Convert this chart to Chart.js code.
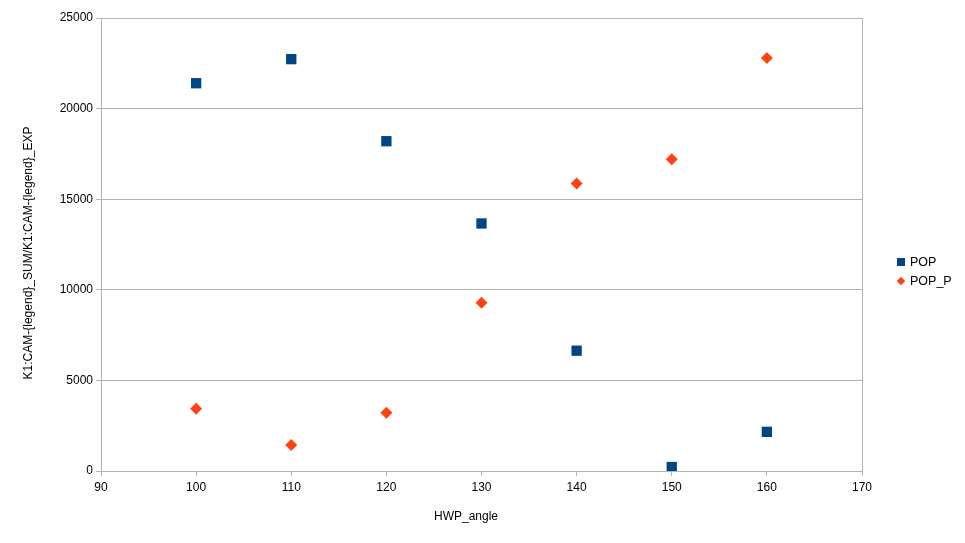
<!DOCTYPE html>
<html>
<head>
<meta charset="utf-8">
<script src="https://cdn.jsdelivr.net/npm/chart.js@4"></script>
<style>
  html, body { margin: 0; padding: 0; background: #fff; }
  #wrap { position: relative; width: 965px; height: 543px; font-family: "Liberation Sans", Arial, sans-serif; }
  #legend { position: absolute; left: 896px; top: 253px; font-size: 12.5px; color: #000; }
  .item { height: 19px; line-height: 19px; white-space: nowrap; position: relative; padding-left: 14px; }
  .sym { position: absolute; }
  #xtitle { position: absolute; left: 366px; width: 200px; top: 508px; text-align: center; font-size: 12px; line-height: 16px; color: #000; }
  #ytitle { position: absolute; left: 28px; top: 253px; width: 400px; margin-left: -200px; margin-top: -8px; text-align: center; font-size: 12px; line-height: 16px; color: #000; transform: rotate(-90deg); white-space: nowrap; }
</style>
</head>
<body>
<div id="wrap">
  <canvas id="c" width="965" height="543"></canvas>
  <div id="legend"></div>
  <div id="xtitle"></div>
  <div id="ytitle"></div>
</div>
<script>
const xValues = [100, 110, 120, 130, 140, 150, 160];
const popValues = [21400, 22730, 18200, 13660, 6640, 220, 2160];
const popPValues = [3430, 1440, 3210, 9290, 15870, 17200, 22790];
const seriesNames = ['POP', 'POP_P'];
const seriesColors = ['#004586', '#ff420e'];
const xAxisTitle = 'HWP_angle';
const yAxisTitle = 'K1:CAM-{legend}_SUM/K1:CAM-{legend}_EXP';

const toPoints = (vals) => xValues.map((x, i) => ({ x: x, y: vals[i] }));
const font = { family: '"Liberation Sans", Arial, sans-serif', size: 12 };
const gridColor = '#b3b3b3';

Chart.defaults.font.family = font.family;
Chart.defaults.font.size = 12;
Chart.defaults.color = '#000';

new Chart(document.getElementById('c'), {
  type: 'scatter',
  data: {
    datasets: [
      { label: seriesNames[0], data: toPoints(popValues), pointStyle: 'rect', pointRadius: 7.3, pointHoverRadius: 7.3,
        backgroundColor: seriesColors[0], borderColor: seriesColors[0], borderWidth: 0 },
      { label: seriesNames[1], data: toPoints(popPValues), pointStyle: 'rectRot', pointRadius: 6, pointHoverRadius: 6,
        backgroundColor: seriesColors[1], borderColor: seriesColors[1], borderWidth: 0 }
    ]
  },
  options: {
    responsive: false,
    animation: false,
    layout: { padding: { left: 0, right: 103, top: 18, bottom: 0 } },
    plugins: { legend: { display: false }, tooltip: { enabled: false } },
    scales: {
      x: {
        type: 'linear', min: 90, max: 170,
        ticks: { stepSize: 10, padding: 4, font: font, color: '#000', callback: (v) => String(v) },
        grid: { drawOnChartArea: false, drawTicks: true, tickLength: 5, color: gridColor },
        border: { display: false },
        afterFit: (s) => { s.height = 72; }
      },
      y: {
        type: 'linear', min: 0, max: 25000,
        ticks: { stepSize: 5000, padding: 3, font: font, color: '#000', callback: (v) => String(v) },
        grid: { color: gridColor, tickLength: 5 },
        border: { display: true, color: gridColor },
        afterFit: (s) => { s.width = 101; }
      },
      y2: {
        type: 'linear', position: 'right', min: 0, max: 25000,
        ticks: { display: false },
        grid: { display: false },
        border: { display: true, color: gridColor },
        afterFit: (s) => { s.width = 0; }
      }
    }
  }
});

document.getElementById('xtitle').textContent = xAxisTitle;
document.getElementById('ytitle').textContent = yAxisTitle;

const legend = document.getElementById('legend');
seriesNames.forEach((name, i) => {
  const item = document.createElement('div');
  item.className = 'item';
  const sym = document.createElement('span');
  sym.className = 'sym';
  if (i === 0) {
    sym.style.cssText = 'left:1px;top:5px;width:8px;height:8px;background:' + seriesColors[i];
  } else {
    sym.style.cssText = 'left:2px;top:6px;width:6px;height:6px;transform:rotate(45deg);background:' + seriesColors[i];
  }
  item.appendChild(sym);
  item.appendChild(document.createTextNode(name));
  legend.appendChild(item);
});
</script>
</body>
</html>
